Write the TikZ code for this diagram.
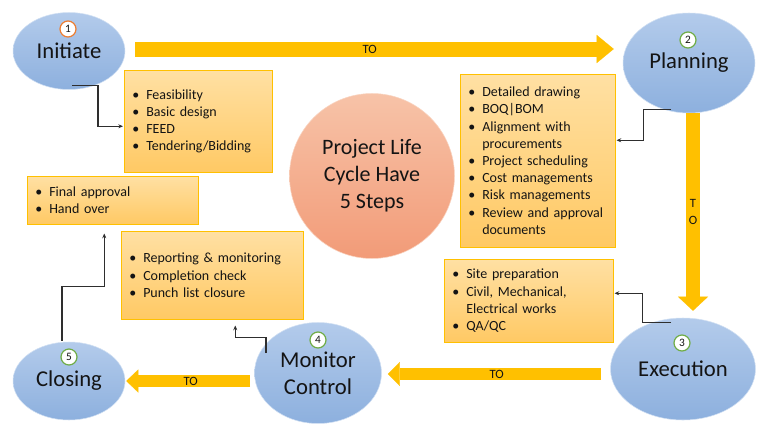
\documentclass[tikz,border=0pt]{standalone}
\usepackage{fontspec}
\setmainfont{Carlito}
\usepackage{tikz}
\usetikzlibrary{arrows.meta,shapes.geometric}
\definecolor{bluetop}{HTML}{B3CBEB}
\definecolor{bluebot}{HTML}{8DB0DE}
\definecolor{salmtop}{HTML}{F7C3A8}
\definecolor{salmbot}{HTML}{F29B78}
\definecolor{notetop}{HTML}{FFE0A3}
\definecolor{notebot}{HTML}{FFC964}
\definecolor{gold}{HTML}{FFC000}
\definecolor{ink}{HTML}{141414}
\definecolor{wire}{HTML}{2E2E2E}
\definecolor{numor}{HTML}{ED7D31}
\definecolor{numgr}{HTML}{70AD47}
\newcommand{\bl}{\makebox[10.5pt][l]{\textbullet}}
\tikzset{
  stage/.style={ellipse,draw=bluetop!60!white,top color=bluetop,bottom color=bluebot,inner sep=0pt,align=center,font=\fontsize{17}{20}\selectfont,text=ink},
  hub/.style={circle,draw=salmtop!70!white,top color=salmtop,bottom color=salmbot,inner sep=0pt,align=center,font=\fontsize{16.5}{20.25}\selectfont,text=ink},
  note/.style={draw=gold,top color=notetop,bottom color=notebot,anchor=north west,align=left,inner xsep=6pt,inner ysep=0pt,font=\fontsize{10.5}{12.9}\selectfont,text=ink},
  num/.style={circle,draw=#1,fill=white,line width=0.9pt,minimum size=12pt,inner sep=0pt,font=\fontsize{8.5}{9}\selectfont,text=ink},
  band/.style n args={3}{draw=gold,line width=#1,-{Triangle[length=#2,width=#3,line width=0.1pt]}},
  link/.style={draw=wire,line width=0.8pt,-{Stealth[length=3.5pt,width=3pt]}},
  tolbl/.style={font=\fontsize{9.5}{12.75}\selectfont,text=ink,inner sep=0pt}}
\begin{document}
\begin{tikzpicture}[x=0.75pt,y=-0.75pt]
\useasboundingbox (0,0) rectangle (768,433);
% the five stages
\node[stage,minimum width=84pt,minimum height=57.75pt] (initiate) at (69,51) {Initiate};
\node[stage,minimum width=99pt,minimum height=75pt] (planning) at (689,63) {Planning};
\node[stage,minimum width=108.75pt,minimum height=76.5pt] (execution) at (683,369) {Execution};
\node[stage,minimum width=95.25pt,minimum height=75.75pt] (monitor) at (318,373) {Monitor\\Control};
\node[stage,minimum width=84pt,minimum height=58.5pt] (closing) at (69,381) {Closing};
\node[num=numor] (n1) at ([shift={(-1,-22)}]initiate.center) {1};
\node[num=numgr] (n2) at ([shift={(-1,-23)}]planning.center) {2};
\node[num=numgr] (n3) at ([shift={(-1,-26)}]execution.center) {3};
\node[num=numgr] (n4) at ([shift={(0,-33)}]monitor.center) {4};
\node[num=numgr] (n5) at ([shift={(0,-24)}]closing.center) {5};
\node[hub,minimum size=123.75pt] (hub) at (372,176) {Project Life\\Cycle Have\\5 Steps};
% task lists
\node[note,minimum height=76.5pt,text width=99pt] (initbox) at (124,70) {\bl Feasibility\\\bl Basic design\\\bl FEED\\\bl Tendering/Bidding};
\node[note,minimum height=129.75pt,text width=104.25pt] (planbox) at (460,74) {\bl Detailed drawing\\\bl BOQ|BOM\\\bl Alignment with\\\hspace*{10.5pt}procurements\\\bl Project scheduling\\\bl Cost managements\\\bl Risk managements\\\bl Review and approval\\\hspace*{10.5pt}documents};
\node[note,minimum height=62.25pt,text width=114.75pt] (execbox) at (444,259) {\bl Site preparation\\\bl Civil, Mechanical,\\\hspace*{10.5pt}Electrical works\\\bl QA/QC};
\node[note,minimum height=66pt,text width=124.5pt] (monbox) at (121,231) {\bl Reporting \& monitoring\\\bl Completion check\\\bl Punch list closure};
\node[note,minimum height=36pt,text width=116.25pt] (closebox) at (27,176) {\bl Final approval\\\bl Hand over};
% stage to list
\draw[link] ([shift={(3,-4)}]initiate.south) -| ([shift={(-26,5)}]initbox.west) -- ([shift={(-1,5)}]initbox.west);
\draw[link] ([shift={(-18,-4)}]planning.south) -| ([shift={(28,-20.5)}]planbox.east) -- ([shift={(1,-20.5)}]planbox.east);
\draw[link] ([shift={(-12,5)}]execution.north) -| ([shift={(29,-7.5)}]execbox.east) -- ([shift={(1,-7.5)}]execbox.east);
\draw[link] ([shift={(-52,-20)}]monitor.center) |- ([shift={(23,18)}]monbox.south) -- ([shift={(23,6)}]monbox.south);
\draw[link] ([shift={(-7,-1)}]closing.north) |- ([shift={(-8.5,62)}]closebox.south) -- ([shift={(-8.5,9)}]closebox.south);
% flow
\draw[band={11.25pt}{12.75pt}{21pt}] ([shift={(10,-2)}]initiate.east) -- node[tolbl,pos=0.49] {TO} ([shift={(-9,-14)}]planning.west);
\draw[band={10.5pt}{10.5pt}{22.5pt}] ([shift={(4,0)}]planning.south) -- node[tolbl,align=center] {T\\O} ([shift={(10,-7)}]execution.north);
\draw[band={8.5pt}{9pt}{18pt}] ([shift={(-9,5)}]execution.west) -- node[tolbl,pos=0.49] {TO} ([shift={(6,1)}]monitor.east);
\draw[band={9pt}{9pt}{17.25pt}] ([shift={(-4,8)}]monitor.west) -- node[tolbl,pos=0.48] {TO} ([shift={(1,0)}]closing.east);
\end{tikzpicture}
\end{document}
